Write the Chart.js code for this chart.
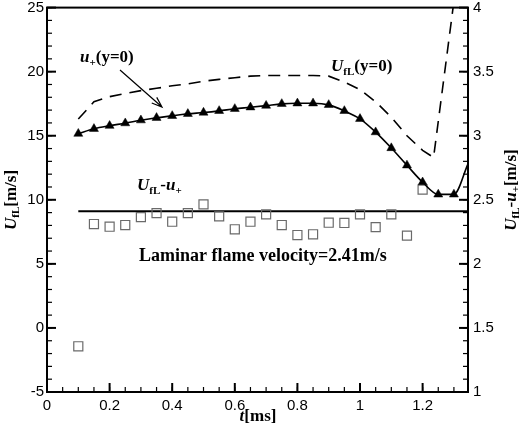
<!DOCTYPE html>
<html>
<head>
<meta charset="utf-8">
<script src="https://cdn.jsdelivr.net/npm/chart.js@4"></script>
<style>
  html, body { margin: 0; padding: 0; background: #fff; }
  #wrap { width: 520px; height: 428px; }
</style>
</head>
<body>
<div id="wrap"><canvas id="chart"></canvas></div>
<script>
// --- data (t in ms, velocities in m/s) ---
const tPlus = [0.1, 0.15, 0.2, 0.25, 0.3, 0.35, 0.4, 0.45, 0.5, 0.55, 0.6, 0.65, 0.7,
               0.75, 0.8, 0.85, 0.9, 0.95, 1.0, 1.05, 1.1, 1.15, 1.2, 1.25, 1.3, 1.345];
const uPlus = [15.16, 15.54, 15.78, 15.98, 16.21, 16.40, 16.55, 16.71, 16.81, 16.94, 17.10, 17.22, 17.35,
               17.49, 17.53, 17.53, 17.41, 16.94, 16.32, 15.28, 14.04, 12.69, 11.37, 10.42, 10.42, 12.8];

const tFlame = [0.1, 0.15, 0.2, 0.25, 0.3, 0.35, 0.4, 0.45, 0.5, 0.55, 0.6, 0.65, 0.7,
                0.75, 0.8, 0.85, 0.9, 0.95, 1.0, 1.05, 1.1, 1.15, 1.2, 1.235, 1.3];
const uFlame = [16.3, 17.65, 18.05, 18.3, 18.52, 18.7, 18.9, 19.05, 19.25, 19.4, 19.53, 19.65, 19.7,
                19.7, 19.7, 19.7, 19.65, 19.2, 18.6, 17.65, 16.45, 15.0, 13.86, 13.3, 25.5];

const tDiff = [0.1, 0.15, 0.2, 0.25, 0.3, 0.35, 0.4, 0.45, 0.5, 0.55, 0.6, 0.65,
               0.7, 0.75, 0.8, 0.85, 0.9, 0.95, 1.0, 1.05, 1.1, 1.15, 1.2];
const uDiff = [1.357, 2.311, 2.29, 2.303, 2.365, 2.396, 2.329, 2.396, 2.464, 2.371, 2.27, 2.329,
               2.386, 2.303, 2.225, 2.231, 2.321, 2.319, 2.386, 2.287, 2.386, 2.22, 2.58];

const tLaminar = [0.1, 1.345];
const laminarSpeed = 2.41;

const xTicks = [0, 0.2, 0.4, 0.6, 0.8, 1, 1.2];
const leftTicks = [-5, 0, 5, 10, 15, 20, 25];
const rightTicks = [1, 1.5, 2, 2.5, 3, 3.5, 4];

// --- helpers ---
const SERIF = '"Liberation Serif", "Times New Roman", serif';
const SANS = '"Liberation Sans", Arial, sans-serif';
const bi = `italic bold 17px ${SERIF}`;
const bd = `bold 17px ${SERIF}`;
const sb = `bold 11px ${SERIF}`;

const pts = (xs, ys) => xs.map((x, i) => ({ x: x, y: ys[i] }));

function richText(ctx, parts, x, y, align) {
    let w = 0;
    parts.forEach(p => { ctx.font = p[1]; w += ctx.measureText(p[0]).width; });
    let cx = align === 'center' ? x - w / 2 : x;
    parts.forEach(p => {
        ctx.font = p[1];
        ctx.fillText(p[0], cx, y + (p[2] || 0));
        cx += ctx.measureText(p[0]).width;
    });
}

function inwardTicks(ctx, scale, vals, len, side, area) {
    vals.forEach(v => {
        const p = scale.getPixelForValue(v);
        ctx.beginPath();
        if (side === 'bottom') { ctx.moveTo(p, area.bottom); ctx.lineTo(p, area.bottom - len); }
        if (side === 'left') { ctx.moveTo(area.left, p); ctx.lineTo(area.left + len, p); }
        if (side === 'right') { ctx.moveTo(area.right, p); ctx.lineTo(area.right - len, p); }
        ctx.stroke();
    });
}

const decor = {
    id: 'decor',
    afterDraw(chart) {
        const { ctx, chartArea: a, scales } = chart;
        ctx.save();
        ctx.strokeStyle = '#000';
        ctx.fillStyle = '#000';

        // minor / major tick marks pointing inward
        ctx.lineWidth = 1.2;
        const xMinor = [], yMinor = [], rMinor = [];
        for (let k = 0; k <= 26; k++) xMinor.push(k * 0.05);
        for (let k = -5; k <= 25; k++) yMinor.push(k);
        for (let k = 10; k <= 40; k++) rMinor.push(k / 10);
        inwardTicks(ctx, scales.x, xMinor, 5, 'bottom', a);
        inwardTicks(ctx, scales.y, yMinor, 5, 'left', a);
        inwardTicks(ctx, scales.y1, rMinor, 5, 'right', a);
        ctx.lineWidth = 2;
        inwardTicks(ctx, scales.x, xTicks, 9, 'bottom', a);
        inwardTicks(ctx, scales.y, leftTicks, 9, 'left', a);
        inwardTicks(ctx, scales.y1, rightTicks, 9, 'right', a);

        // frame
        ctx.lineWidth = 2;
        ctx.strokeRect(a.left, a.top, a.right - a.left, a.bottom - a.top);

        // annotations
        ctx.textBaseline = 'alphabetic';
        ctx.textAlign = 'left';
        richText(ctx, [['u', bi], ['+', sb, 4], ['(y=0)', bd]], 80, 62);
        richText(ctx, [['U', bi], ['fL', sb, 4], ['(y=0)', bd]], 331, 71);
        richText(ctx, [['U', bi], ['fL', sb, 4], ['-', bd], ['u', bi], ['+', sb, 4]], 137, 190);
        ctx.font = `bold 18px ${SERIF}`;
        ctx.fillText('Laminar flame velocity=2.41m/s', 139, 261);

        // arrow to the u+ curve
        ctx.lineWidth = 1.2;
        const x0 = 120, y0 = 70, x1 = 162, y1 = 107;
        const ang = Math.atan2(y1 - y0, x1 - x0);
        ctx.beginPath();
        ctx.moveTo(x0, y0); ctx.lineTo(x1, y1);
        ctx.moveTo(x1 - 11 * Math.cos(ang - 0.35), y1 - 11 * Math.sin(ang - 0.35));
        ctx.lineTo(x1, y1);
        ctx.lineTo(x1 - 11 * Math.cos(ang + 0.35), y1 - 11 * Math.sin(ang + 0.35));
        ctx.stroke();

        // axis titles
        ctx.textBaseline = 'middle';
        richText(ctx, [['t', bi], ['[ms]', bd]], 258, 417, 'center');
        ctx.save();
        ctx.translate(12, 200);
        ctx.rotate(-Math.PI / 2);
        richText(ctx, [['U', bi], ['fL', sb, 4], ['[m/s]', bd]], 0, 0, 'center');
        ctx.restore();
        ctx.save();
        ctx.translate(512, 190);
        ctx.rotate(-Math.PI / 2);
        richText(ctx, [['U', bi], ['fL', sb, 4], ['-', bd], ['u', bi], ['+', sb, 4], ['[m/s]', bd]], 0, 0, 'center');
        ctx.restore();
        ctx.restore();
    }
};

const tickFmt = v => String(+Number(v).toFixed(2));
const tickFont = { family: SANS, size: 15 };

new Chart(document.getElementById('chart'), {
    type: 'line',
    data: {
        datasets: [
            {
                data: pts(tPlus, uPlus),
                yAxisID: 'y',
                borderColor: '#000',
                borderWidth: 1.6,
                cubicInterpolationMode: 'monotone',
                pointStyle: 'triangle',
                pointRadius: tPlus.map((t, i) => i === tPlus.length - 1 ? 0 : 5.2),
                pointBackgroundColor: '#000',
                pointBorderColor: '#000',
                pointBorderWidth: 0.5
            },
            {
                data: pts(tFlame, uFlame),
                yAxisID: 'y',
                borderColor: '#000',
                borderWidth: 1.6,
                borderDash: [12, 8],
                pointRadius: 0,
                tension: 0
            },
            {
                data: pts(tDiff, uDiff),
                yAxisID: 'y1',
                showLine: false,
                pointStyle: 'rect',
                pointRadius: 6.4,
                pointBorderColor: '#6a6a6a',
                pointBackgroundColor: 'rgba(255,255,255,0)',
                pointBorderWidth: 1.2
            },
            {
                data: tLaminar.map(t => ({ x: t, y: laminarSpeed })),
                yAxisID: 'y1',
                borderColor: '#000',
                borderWidth: 2,
                pointRadius: 0
            }
        ]
    },
    options: {
        responsive: true,
        maintainAspectRatio: false,
        animation: false,
        events: [],
        layout: { padding: { top: 6, left: 0, right: 0, bottom: 0 } },
        plugins: { legend: { display: false }, tooltip: { enabled: false } },
        scales: {
            x: {
                type: 'linear',
                min: 0,
                max: 1.345,
                grid: { display: false, drawTicks: false },
                border: { display: false },
                ticks: { stepSize: 0.2, includeBounds: false, color: '#000', font: tickFont, padding: 5, callback: tickFmt, maxRotation: 0 },
                afterFit: s => { s.height = 36; s.paddingLeft = 0; s.paddingRight = 0; }
            },
            y: {
                position: 'left',
                min: -5,
                max: 25,
                grid: { display: false, drawTicks: false },
                border: { display: false },
                ticks: { stepSize: 5, color: '#000', font: tickFont, padding: 3, callback: tickFmt },
                afterFit: s => { s.width = 47; s.paddingTop = 0; s.paddingBottom = 0; }
            },
            y1: {
                position: 'right',
                min: 1,
                max: 4,
                grid: { display: false, drawTicks: false },
                border: { display: false },
                ticks: { stepSize: 0.5, color: '#000', font: tickFont, padding: 5, callback: tickFmt },
                afterFit: s => { s.width = 52; s.paddingTop = 0; s.paddingBottom = 0; }
            }
        }
    },
    plugins: [decor]
});
</script>
</body>
</html>
